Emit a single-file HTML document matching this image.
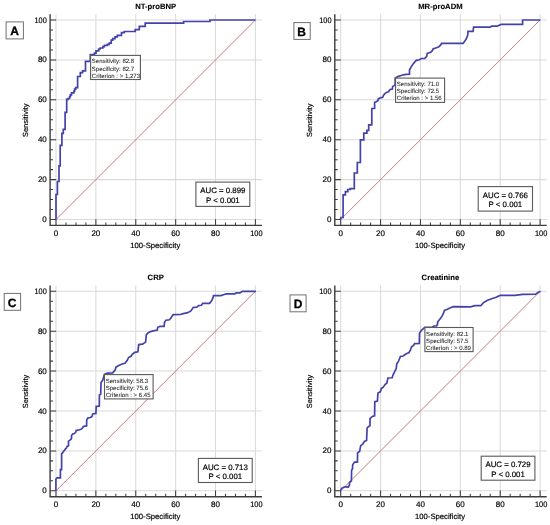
<!DOCTYPE html>
<html><head><meta charset="utf-8"><title>ROC curves</title><style>
html,body{margin:0;padding:0;background:#fff;}
svg{display:block;}
text{font-family:"Liberation Sans",Arial,sans-serif;fill:#000;stroke:#000;stroke-width:0.18px;text-rendering:geometricPrecision;}
.g{stroke:#dadada;stroke-width:1.05;}
.d{stroke:#c47c80;stroke-width:1;}
.ax{stroke:#3c3c3c;stroke-width:1.4;fill:none;}
.tk{stroke:#3c3c3c;stroke-width:1.05;fill:none;}
.tl{font-size:7.7px;}
.tn{font-size:8px;}
.tt{font-size:7.7px;font-weight:bold;stroke-width:0.1px;}
.lt{font-size:12px;font-weight:bold;stroke-width:0.3px;}
.bx{fill:#fff;stroke:#707070;stroke-width:1;}
.cv{stroke:#4343ab;stroke-width:1.7;fill:none;stroke-linejoin:miter;}
.cb{fill:#fff;stroke:#5a5a5a;stroke-width:1.1;}
.ct{font-size:6.05px;fill:#1a1a1a;stroke:#1a1a1a;stroke-width:0.04px;}
.ab{fill:#fff;stroke:#5a5a5a;stroke-width:1.1;}
.at{font-size:7.85px;}
</style></head>
<body><svg width="550" height="525" viewBox="0 0 550 525">
<defs><filter id="bl" x="0" y="0" width="550" height="525" filterUnits="userSpaceOnUse"><feGaussianBlur stdDeviation="0.3"/></filter></defs>
<g filter="url(#bl)"><rect width="550" height="525" fill="#fff"/>
<g transform="translate(0,0)">
<line x1="56.00" y1="14.3" x2="56.00" y2="225" class="g"/>
<line x1="50.5" y1="219.50" x2="262" y2="219.50" class="g"/>
<line x1="95.88" y1="14.3" x2="95.88" y2="225" class="g"/>
<line x1="50.5" y1="179.60" x2="262" y2="179.60" class="g"/>
<line x1="135.76" y1="14.3" x2="135.76" y2="225" class="g"/>
<line x1="50.5" y1="139.70" x2="262" y2="139.70" class="g"/>
<line x1="175.64" y1="14.3" x2="175.64" y2="225" class="g"/>
<line x1="50.5" y1="99.80" x2="262" y2="99.80" class="g"/>
<line x1="215.52" y1="14.3" x2="215.52" y2="225" class="g"/>
<line x1="50.5" y1="59.90" x2="262" y2="59.90" class="g"/>
<line x1="255.40" y1="14.3" x2="255.40" y2="225" class="g"/>
<line x1="50.5" y1="20.00" x2="262" y2="20.00" class="g"/>
<line x1="56.00" y1="219.50" x2="255.40" y2="20.00" class="d"/>
<path d="M50.1,14.2 V225.4 H262" class="ax"/>
<path d="M50,219.50h6.1 M56.00,225.4v-6.1 M50,209.53h3 M65.97,225.4v-3 M50,199.55h3 M75.94,225.4v-3 M50,189.57h3 M85.91,225.4v-3 M50,179.60h6.1 M95.88,225.4v-6.1 M50,169.62h3 M105.85,225.4v-3 M50,159.65h3 M115.82,225.4v-3 M50,149.68h3 M125.79,225.4v-3 M50,139.70h6.1 M135.76,225.4v-6.1 M50,129.72h3 M145.73,225.4v-3 M50,119.75h3 M155.70,225.4v-3 M50,109.77h3 M165.67,225.4v-3 M50,99.80h6.1 M175.64,225.4v-6.1 M50,89.82h3 M185.61,225.4v-3 M50,79.85h3 M195.58,225.4v-3 M50,69.88h3 M205.55,225.4v-3 M50,59.90h6.1 M215.52,225.4v-6.1 M50,49.92h3 M225.49,225.4v-3 M50,39.95h3 M235.46,225.4v-3 M50,29.97h3 M245.43,225.4v-3 M50,20.00h6.1 M255.40,225.4v-6.1" class="tk"/>
<text x="46.8" y="222.05" class="tn" text-anchor="end">0</text>
<text x="56.00" y="235.6" class="tn" text-anchor="middle">0</text>
<text x="46.8" y="182.15" class="tn" text-anchor="end">20</text>
<text x="95.88" y="235.6" class="tn" text-anchor="middle">20</text>
<text x="46.8" y="142.25" class="tn" text-anchor="end">40</text>
<text x="135.76" y="235.6" class="tn" text-anchor="middle">40</text>
<text x="46.8" y="102.35" class="tn" text-anchor="end">60</text>
<text x="175.64" y="235.6" class="tn" text-anchor="middle">60</text>
<text x="46.8" y="62.45" class="tn" text-anchor="end">80</text>
<text x="215.52" y="235.6" class="tn" text-anchor="middle">80</text>
<text x="46.8" y="22.55" class="tn" text-anchor="end" textLength="12.3" lengthAdjust="spacingAndGlyphs">100</text>
<text x="256.40" y="235.6" class="tn" text-anchor="middle" textLength="12.3" lengthAdjust="spacingAndGlyphs">100</text>
<text transform="translate(27.7,120.25) rotate(-90)" class="tl" text-anchor="middle" style="font-size:7.45px">Sensitivity</text>
<text x="155.30" y="247.9" class="tl" text-anchor="middle">100-Specificity</text>
<text x="155.70" y="9.40" class="tt" text-anchor="middle">NT-proBNP</text>
</g>
<rect x="6.10" y="21.90" width="17.30" height="17.00" class="bx"/>
<text x="14.6" y="34.6" class="lt" text-anchor="middle">A</text>
<path d="M56.0,219.6 L56.0,194.5 L57.4,194.5 L57.4,181.5 L59.0,181.5 L59.0,165.8 L60.2,165.8 L60.2,145.3 L61.9,145.3 L61.9,133.3 L63.3,133.3 L63.3,129.3 L65.1,129.3 L65.1,112.4 L66.7,112.4 L66.7,99.4 L68.0,99.4 L68.0,98.5 L69.6,98.5 L69.6,96.7 L70.4,96.7 L70.4,94.8 L71.5,94.8 L71.5,92.9 L73.8,92.9 L73.8,91.4 L74.6,91.4 L74.6,89.1 L75.7,89.1 L75.7,87.6 L77.6,87.6 L77.6,76.5 L80.3,76.5 L80.3,72.7 L82.6,72.7 L82.6,70.8 L85.5,70.8 L85.5,61.4 L90.3,61.4 L90.3,54.7 L94.5,54.7 L94.5,53.1 L96.0,53.1 L96.0,50.9 L98.7,50.9 L98.7,49.0 L100.2,49.0 L100.2,48.0 L102.9,48.0 L102.9,46.7 L104.4,46.7 L104.4,45.4 L107.4,45.4 L107.4,44.4 L109.3,44.4 L109.3,43.2 L111.2,43.2 L111.2,40.2 L112.8,40.2 L112.8,38.7 L115.0,38.7 L115.0,36.8 L117.3,36.8 L117.3,35.4 L121.5,35.4 L121.5,32.6 L124.3,32.6 L124.3,31.5 L135.2,31.5 L135.2,29.6 L139.3,29.6 L139.3,26.3 L145.2,26.3 L145.2,23.1 L183.6,23.1 L183.6,21.5 L210.0,21.5 L210.0,20.0 L255.6,20.0" class="cv"/>
<rect x="90.60" y="55.40" width="49.80" height="24.10" class="cb"/>
<text x="91.8" y="63.45" class="ct">Sensitivity: 82.8</text>
<text x="91.8" y="70.52" class="ct">Specificity: 82.7</text>
<text x="91.8" y="77.59" class="ct">Criterion : > 1,273</text>
<rect x="195.90" y="182.10" width="53.90" height="24.30" class="ab"/>
<text x="222.9" y="193.3" class="at" text-anchor="middle">AUC = 0.899</text>
<text x="222.9" y="202.6" class="at" text-anchor="middle">P &lt; 0.001</text>
<g transform="translate(284.7,0)">
<line x1="56.00" y1="14.3" x2="56.00" y2="225" class="g"/>
<line x1="50.5" y1="219.50" x2="262" y2="219.50" class="g"/>
<line x1="95.88" y1="14.3" x2="95.88" y2="225" class="g"/>
<line x1="50.5" y1="179.60" x2="262" y2="179.60" class="g"/>
<line x1="135.76" y1="14.3" x2="135.76" y2="225" class="g"/>
<line x1="50.5" y1="139.70" x2="262" y2="139.70" class="g"/>
<line x1="175.64" y1="14.3" x2="175.64" y2="225" class="g"/>
<line x1="50.5" y1="99.80" x2="262" y2="99.80" class="g"/>
<line x1="215.52" y1="14.3" x2="215.52" y2="225" class="g"/>
<line x1="50.5" y1="59.90" x2="262" y2="59.90" class="g"/>
<line x1="255.40" y1="14.3" x2="255.40" y2="225" class="g"/>
<line x1="50.5" y1="20.00" x2="262" y2="20.00" class="g"/>
<line x1="56.00" y1="219.50" x2="255.40" y2="20.00" class="d"/>
<path d="M50.1,14.2 V225.4 H262" class="ax"/>
<path d="M50,219.50h6.1 M56.00,225.4v-6.1 M50,209.53h3 M65.97,225.4v-3 M50,199.55h3 M75.94,225.4v-3 M50,189.57h3 M85.91,225.4v-3 M50,179.60h6.1 M95.88,225.4v-6.1 M50,169.62h3 M105.85,225.4v-3 M50,159.65h3 M115.82,225.4v-3 M50,149.68h3 M125.79,225.4v-3 M50,139.70h6.1 M135.76,225.4v-6.1 M50,129.72h3 M145.73,225.4v-3 M50,119.75h3 M155.70,225.4v-3 M50,109.77h3 M165.67,225.4v-3 M50,99.80h6.1 M175.64,225.4v-6.1 M50,89.82h3 M185.61,225.4v-3 M50,79.85h3 M195.58,225.4v-3 M50,69.88h3 M205.55,225.4v-3 M50,59.90h6.1 M215.52,225.4v-6.1 M50,49.92h3 M225.49,225.4v-3 M50,39.95h3 M235.46,225.4v-3 M50,29.97h3 M245.43,225.4v-3 M50,20.00h6.1 M255.40,225.4v-6.1" class="tk"/>
<text x="46.8" y="222.05" class="tn" text-anchor="end">0</text>
<text x="56.00" y="235.6" class="tn" text-anchor="middle">0</text>
<text x="46.8" y="182.15" class="tn" text-anchor="end">20</text>
<text x="95.88" y="235.6" class="tn" text-anchor="middle">20</text>
<text x="46.8" y="142.25" class="tn" text-anchor="end">40</text>
<text x="135.76" y="235.6" class="tn" text-anchor="middle">40</text>
<text x="46.8" y="102.35" class="tn" text-anchor="end">60</text>
<text x="175.64" y="235.6" class="tn" text-anchor="middle">60</text>
<text x="46.8" y="62.45" class="tn" text-anchor="end">80</text>
<text x="215.52" y="235.6" class="tn" text-anchor="middle">80</text>
<text x="46.8" y="22.55" class="tn" text-anchor="end" textLength="12.3" lengthAdjust="spacingAndGlyphs">100</text>
<text x="256.40" y="235.6" class="tn" text-anchor="middle" textLength="12.3" lengthAdjust="spacingAndGlyphs">100</text>
<text transform="translate(27.7,120.25) rotate(-90)" class="tl" text-anchor="middle" style="font-size:7.45px">Sensitivity</text>
<text x="155.30" y="247.9" class="tl" text-anchor="middle">100-Specificity</text>
<text x="155.70" y="9.30" class="tt" text-anchor="middle">MR-proADM</text>
</g>
<rect x="293.90" y="22.60" width="16.30" height="16.80" class="bx"/>
<text x="301.6" y="35.5" class="lt" text-anchor="middle">B</text>
<path d="M340.4,219.6 L341.0,217.5 L343.1,217.5 L343.1,194.8 L345.4,194.8 L345.4,191.6 L347.8,191.6 L347.8,189.5 L350.2,189.5 L350.2,188.6 L354.3,188.6 L354.3,173.0 L357.3,173.0 L357.3,162.5 L360.4,162.5 L360.4,139.9 L363.8,139.9 L363.8,133.2 L366.9,133.2 L366.9,130.3 L368.7,130.3 L368.7,124.8 L371.8,124.8 L371.8,108.5 L374.6,108.5 L374.6,102.4 L376.2,101.7 L377.9,100.7 L378.2,98.9 L380.3,97.9 L382.7,97.2 L383.4,95.5 L384.7,93.8 L386.4,92.4 L388.5,91.8 L389.5,90.0 L390.5,89.4 L392.4,89.0 L392.6,86.6 L393.6,85.9 L395.1,84.9 L395.2,78.1 L396.4,77.4 L398.3,76.4 L400.5,75.7 L403.3,74.8 L406.2,74.3 L409.5,74.1 L409.5,70.0 L411.0,67.1 L412.9,64.3 L414.8,61.9 L416.4,60.3 L419.4,59.8 L421.3,58.5 L424.8,58.3 L426.7,56.4 L427.2,53.4 L430.7,52.2 L432.1,51.0 L433.1,49.0 L435.6,48.0 L438.5,47.0 L440.5,45.1 L441.5,43.4 L463.1,43.4 L464.5,41.6 L466.2,39.0 L467.7,35.2 L468.0,31.3 L473.1,31.3 L473.6,27.1 L490.1,27.1 L491.7,26.2 L497.1,26.2 L501.0,24.4 L522.6,24.4 L522.6,20.0 L540.4,20.0" class="cv"/>
<rect x="395.60" y="78.10" width="49.00" height="24.30" class="cb"/>
<text x="396.8" y="86.15" class="ct">Sensitivity: 71.0</text>
<text x="396.8" y="93.22" class="ct">Specificity: 72.5</text>
<text x="396.8" y="100.29" class="ct">Criterion : > 1.56</text>
<rect x="478.20" y="186.60" width="54.30" height="24.50" class="ab"/>
<text x="505.4" y="197.8" class="at" text-anchor="middle">AUC = 0.766</text>
<text x="505.4" y="207.1" class="at" text-anchor="middle">P &lt; 0.001</text>
<g transform="translate(0,271.3)">
<line x1="56.00" y1="14.3" x2="56.00" y2="225" class="g"/>
<line x1="50.5" y1="219.50" x2="262" y2="219.50" class="g"/>
<line x1="95.88" y1="14.3" x2="95.88" y2="225" class="g"/>
<line x1="50.5" y1="179.60" x2="262" y2="179.60" class="g"/>
<line x1="135.76" y1="14.3" x2="135.76" y2="225" class="g"/>
<line x1="50.5" y1="139.70" x2="262" y2="139.70" class="g"/>
<line x1="175.64" y1="14.3" x2="175.64" y2="225" class="g"/>
<line x1="50.5" y1="99.80" x2="262" y2="99.80" class="g"/>
<line x1="215.52" y1="14.3" x2="215.52" y2="225" class="g"/>
<line x1="50.5" y1="59.90" x2="262" y2="59.90" class="g"/>
<line x1="255.40" y1="14.3" x2="255.40" y2="225" class="g"/>
<line x1="50.5" y1="20.00" x2="262" y2="20.00" class="g"/>
<line x1="56.00" y1="219.50" x2="255.40" y2="20.00" class="d"/>
<path d="M50.1,14.2 V225.4 H262" class="ax"/>
<path d="M50,219.50h6.1 M56.00,225.4v-6.1 M50,209.53h3 M65.97,225.4v-3 M50,199.55h3 M75.94,225.4v-3 M50,189.57h3 M85.91,225.4v-3 M50,179.60h6.1 M95.88,225.4v-6.1 M50,169.62h3 M105.85,225.4v-3 M50,159.65h3 M115.82,225.4v-3 M50,149.68h3 M125.79,225.4v-3 M50,139.70h6.1 M135.76,225.4v-6.1 M50,129.72h3 M145.73,225.4v-3 M50,119.75h3 M155.70,225.4v-3 M50,109.77h3 M165.67,225.4v-3 M50,99.80h6.1 M175.64,225.4v-6.1 M50,89.82h3 M185.61,225.4v-3 M50,79.85h3 M195.58,225.4v-3 M50,69.88h3 M205.55,225.4v-3 M50,59.90h6.1 M215.52,225.4v-6.1 M50,49.92h3 M225.49,225.4v-3 M50,39.95h3 M235.46,225.4v-3 M50,29.97h3 M245.43,225.4v-3 M50,20.00h6.1 M255.40,225.4v-6.1" class="tk"/>
<text x="46.8" y="222.05" class="tn" text-anchor="end">0</text>
<text x="56.00" y="235.6" class="tn" text-anchor="middle">0</text>
<text x="46.8" y="182.15" class="tn" text-anchor="end">20</text>
<text x="95.88" y="235.6" class="tn" text-anchor="middle">20</text>
<text x="46.8" y="142.25" class="tn" text-anchor="end">40</text>
<text x="135.76" y="235.6" class="tn" text-anchor="middle">40</text>
<text x="46.8" y="102.35" class="tn" text-anchor="end">60</text>
<text x="175.64" y="235.6" class="tn" text-anchor="middle">60</text>
<text x="46.8" y="62.45" class="tn" text-anchor="end">80</text>
<text x="215.52" y="235.6" class="tn" text-anchor="middle">80</text>
<text x="46.8" y="22.55" class="tn" text-anchor="end" textLength="12.3" lengthAdjust="spacingAndGlyphs">100</text>
<text x="256.40" y="235.6" class="tn" text-anchor="middle" textLength="12.3" lengthAdjust="spacingAndGlyphs">100</text>
<text transform="translate(27.7,120.25) rotate(-90)" class="tl" text-anchor="middle" style="font-size:7.45px">Sensitivity</text>
<text x="155.30" y="247.9" class="tl" text-anchor="middle">100-Specificity</text>
<text x="155.70" y="8.70" class="tt" text-anchor="middle">CRP</text>
</g>
<rect x="4.20" y="293.40" width="16.40" height="16.90" class="bx"/>
<text x="12.1" y="306.6" class="lt" text-anchor="middle">C</text>
<path d="M55.9,490.7 L55.9,479.2 L57.0,477.8 L60.4,477.8 L60.4,469.6 L61.6,469.6 L61.6,453.8 L62.7,452.7 L63.5,451.3 L64.5,450.5 L65.3,449.1 L66.4,448.0 L67.1,446.5 L68.5,445.8 L68.5,441.1 L69.6,440.4 L71.1,439.3 L71.5,438.5 L71.5,435.6 L72.9,433.8 L74.4,433.5 L75.8,432.0 L76.2,430.5 L77.6,430.2 L79.8,429.8 L82.0,428.7 L83.1,426.9 L84.2,426.2 L86.6,426.0 L86.7,420.1 L88.0,417.9 L90.5,417.5 L92.0,416.4 L92.7,413.9 L95.9,413.4 L96.2,406.4 L99.3,406.3 L99.4,395.1 L100.7,394.3 L101.0,382.6 L102.7,380.3 L103.6,377.3 L104.4,374.4 L107.4,373.2 L112.7,372.9 L115.3,369.8 L115.8,367.3 L118.3,365.7 L121.4,364.2 L125.0,363.2 L127.1,360.6 L128.6,357.5 L131.2,356.0 L132.2,354.4 L134.8,352.3 L137.9,351.8 L138.7,344.6 L142.5,344.1 L145.6,342.1 L146.3,334.9 L148.2,332.8 L151.3,331.3 L154.4,330.7 L157.3,330.0 L157.7,327.3 L160.0,326.4 L164.1,326.4 L164.5,322.3 L165.9,320.2 L169.5,319.8 L171.4,317.3 L173.2,314.7 L180.5,314.5 L183.2,313.6 L187.7,312.7 L190.9,310.9 L193.2,307.5 L196.8,307.1 L198.6,305.6 L201.4,305.3 L202.8,303.3 L209.6,303.3 L211.8,300.5 L213.0,297.7 L213.5,295.6 L220.9,295.6 L224.2,294.5 L226.5,293.9 L234.9,293.9 L236.1,292.9 L240.0,292.9 L242.3,291.3 L255.9,291.3" class="cv"/>
<rect x="104.50" y="374.60" width="48.60" height="24.30" class="cb"/>
<text x="105.7" y="382.65" class="ct">Sensitivity: 58.3</text>
<text x="105.7" y="389.72" class="ct">Specificity: 75.6</text>
<text x="105.7" y="396.79" class="ct">Criterion : > 6.45</text>
<rect x="198.40" y="458.40" width="53.80" height="24.10" class="ab"/>
<text x="225.3" y="469.6" class="at" text-anchor="middle">AUC = 0.713</text>
<text x="225.3" y="478.9" class="at" text-anchor="middle">P &lt; 0.001</text>
<g transform="translate(284.7,271.3)">
<line x1="56.00" y1="14.3" x2="56.00" y2="225" class="g"/>
<line x1="50.5" y1="219.50" x2="262" y2="219.50" class="g"/>
<line x1="95.88" y1="14.3" x2="95.88" y2="225" class="g"/>
<line x1="50.5" y1="179.60" x2="262" y2="179.60" class="g"/>
<line x1="135.76" y1="14.3" x2="135.76" y2="225" class="g"/>
<line x1="50.5" y1="139.70" x2="262" y2="139.70" class="g"/>
<line x1="175.64" y1="14.3" x2="175.64" y2="225" class="g"/>
<line x1="50.5" y1="99.80" x2="262" y2="99.80" class="g"/>
<line x1="215.52" y1="14.3" x2="215.52" y2="225" class="g"/>
<line x1="50.5" y1="59.90" x2="262" y2="59.90" class="g"/>
<line x1="255.40" y1="14.3" x2="255.40" y2="225" class="g"/>
<line x1="50.5" y1="20.00" x2="262" y2="20.00" class="g"/>
<line x1="56.00" y1="219.50" x2="255.40" y2="20.00" class="d"/>
<path d="M50.1,14.2 V225.4 H262" class="ax"/>
<path d="M50,219.50h6.1 M56.00,225.4v-6.1 M50,209.53h3 M65.97,225.4v-3 M50,199.55h3 M75.94,225.4v-3 M50,189.57h3 M85.91,225.4v-3 M50,179.60h6.1 M95.88,225.4v-6.1 M50,169.62h3 M105.85,225.4v-3 M50,159.65h3 M115.82,225.4v-3 M50,149.68h3 M125.79,225.4v-3 M50,139.70h6.1 M135.76,225.4v-6.1 M50,129.72h3 M145.73,225.4v-3 M50,119.75h3 M155.70,225.4v-3 M50,109.77h3 M165.67,225.4v-3 M50,99.80h6.1 M175.64,225.4v-6.1 M50,89.82h3 M185.61,225.4v-3 M50,79.85h3 M195.58,225.4v-3 M50,69.88h3 M205.55,225.4v-3 M50,59.90h6.1 M215.52,225.4v-6.1 M50,49.92h3 M225.49,225.4v-3 M50,39.95h3 M235.46,225.4v-3 M50,29.97h3 M245.43,225.4v-3 M50,20.00h6.1 M255.40,225.4v-6.1" class="tk"/>
<text x="46.8" y="222.05" class="tn" text-anchor="end">0</text>
<text x="56.00" y="235.6" class="tn" text-anchor="middle">0</text>
<text x="46.8" y="182.15" class="tn" text-anchor="end">20</text>
<text x="95.88" y="235.6" class="tn" text-anchor="middle">20</text>
<text x="46.8" y="142.25" class="tn" text-anchor="end">40</text>
<text x="135.76" y="235.6" class="tn" text-anchor="middle">40</text>
<text x="46.8" y="102.35" class="tn" text-anchor="end">60</text>
<text x="175.64" y="235.6" class="tn" text-anchor="middle">60</text>
<text x="46.8" y="62.45" class="tn" text-anchor="end">80</text>
<text x="215.52" y="235.6" class="tn" text-anchor="middle">80</text>
<text x="46.8" y="22.55" class="tn" text-anchor="end" textLength="12.3" lengthAdjust="spacingAndGlyphs">100</text>
<text x="256.40" y="235.6" class="tn" text-anchor="middle" textLength="12.3" lengthAdjust="spacingAndGlyphs">100</text>
<text transform="translate(27.7,120.25) rotate(-90)" class="tl" text-anchor="middle" style="font-size:7.45px">Sensitivity</text>
<text x="155.30" y="247.9" class="tl" text-anchor="middle">100-Specificity</text>
<text x="155.70" y="8.90" class="tt" text-anchor="middle">Creatinine</text>
</g>
<rect x="290.00" y="294.90" width="16.10" height="16.90" class="bx"/>
<text x="298.0" y="307.6" class="lt" text-anchor="middle">D</text>
<path d="M340.4,490.6 L341.7,488.3 L343.7,487.3 L345.3,486.8 L348.3,487.0 L349.4,485.2 L349.6,482.2 L351.4,481.1 L351.6,470.3 L352.5,468.8 L352.7,464.7 L354.5,462.1 L357.4,462.1 L357.6,452.9 L359.7,451.3 L360.2,448.2 L360.7,445.7 L362.7,444.1 L364.3,441.5 L366.6,440.4 L367.1,427.8 L370.0,425.5 L370.0,418.7 L372.3,416.4 L374.6,415.8 L374.8,401.6 L377.4,401.0 L378.0,393.0 L380.3,391.8 L381.4,388.4 L383.1,387.4 L385.2,384.3 L386.8,383.2 L387.9,378.0 L392.1,377.8 L393.1,374.8 L394.7,371.7 L396.2,368.5 L396.8,363.8 L398.3,361.7 L400.4,356.5 L403.1,356.0 L406.2,353.7 L408.8,352.8 L410.4,350.2 L411.4,347.1 L413.5,345.5 L414.6,343.6 L419.3,343.4 L419.5,333.3 L421.4,330.4 L424.8,327.4 L432.2,327.2 L434.1,326.0 L436.6,326.0 L437.6,324.0 L437.6,322.0 L440.0,319.1 L442.0,316.1 L443.5,313.2 L444.4,310.5 L447.4,309.3 L449.3,308.3 L453.3,306.6 L470.8,306.8 L474.7,305.7 L480.9,305.7 L483.2,302.9 L487.0,300.5 L490.9,299.0 L495.5,297.5 L500.2,295.4 L514.9,295.4 L522.6,294.4 L535.7,294.1 L537.3,292.9 L540.4,291.3" class="cv"/>
<rect x="424.90" y="327.50" width="48.20" height="24.10" class="cb"/>
<text x="426.1" y="335.55" class="ct">Sensitivity: 82.1</text>
<text x="426.1" y="342.62" class="ct">Specificity: 57.5</text>
<text x="426.1" y="349.69" class="ct">Criterion : > 0.89</text>
<rect x="481.20" y="456.20" width="53.70" height="24.00" class="ab"/>
<text x="508.0" y="467.4" class="at" text-anchor="middle">AUC = 0.729</text>
<text x="508.0" y="476.7" class="at" text-anchor="middle">P &lt; 0.001</text></g>
</svg></body></html>
